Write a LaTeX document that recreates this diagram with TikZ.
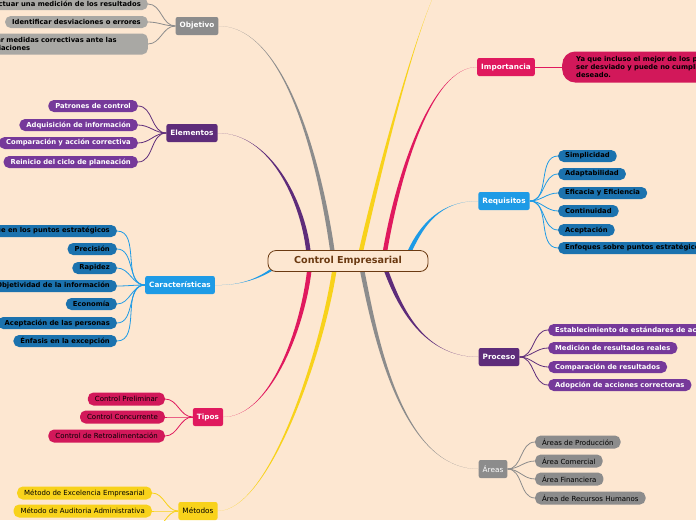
\documentclass[tikz,border=0pt]{standalone}
\usepackage{fontspec}
\setmainfont{DejaVu Sans}
\usetikzlibrary{calc}
\definecolor{bg}{HTML}{FDE7D1}
\definecolor{cgray}{HTML}{8C8C8C}
\definecolor{clgray}{HTML}{A9A8A4}
\definecolor{cpur}{HTML}{5E2C7A}
\definecolor{cpurk}{HTML}{76399A}
\definecolor{cpink}{HTML}{E0195E}
\definecolor{cpinkk}{HTML}{D2185A}
\definecolor{cblue}{HTML}{1E9BE6}
\definecolor{cbluek}{HTML}{1B72AE}
\definecolor{cyel}{HTML}{F8D21B}
\definecolor{cbrown}{HTML}{6B3A12}
\newcommand\mytaper[5]{\fill[#1] #2 .. controls #3 and #4 .. #5 -- ($#5+(4.5,0)$) .. controls ($#4+(4.5,0)$) and #3 .. #2;}
\tikzset{
  x=1pt,y=-1pt,
  br/.style={fill=#1,text=white,rounded corners=2pt,inner xsep=4pt,inner ysep=0pt,minimum height=18pt,font=\fontsize{7.3}{8}\selectfont\bfseries},
  kid/.style={fill=#1,rounded corners=5.5pt,inner xsep=7pt,inner ysep=0pt,minimum height=12pt,font=\fontsize{6.8}{7.5}\selectfont\bfseries},
  kidr/.style={fill=#1,rounded corners=5.5pt,inner xsep=7pt,inner ysep=0pt,minimum height=13pt,font=\fontsize{7}{8}\selectfont},
  cn/.style={draw=#1,line width=0.8pt},
}
\begin{document}
\begin{tikzpicture}
\fill[bg] (0,0) rectangle (696,520);
\useasboundingbox (0,0) rectangle (696,520);
% branches
\node[br=cgray] (obj) at (197,26) {Objetivo};
\node[br=cpur] (ele) at (192,133) {Elementos};
\node[br=cblue] (car) at (180,285) {Características};
\node[br=cpink] (tip) at (208,417) {Tipos};
\node[br=cyel,text=black,font=\fontsize{7.3}{8}\selectfont] (met) at (198,511) {Métodos};
\node[br=cpink] (imp) at (506,67) {Importancia};
\node[br=cblue] (req) at (504,201) {Requisitos};
\node[br=cpur] (pro) at (499,357) {Proceso};
\node[br=cgray,font=\fontsize{7.3}{8}\selectfont] (are) at (493,469) {Áreas};
\coordinate (ytop) at (434,-5);
% tapers
\mytaper{cgray}{(obj.east)}{(290,26)}{(320,180)}{(330,250)}
\mytaper{cgray}{(are.west)}{(400,469)}{(372,330)}{(360,271)}
\mytaper{cpur}{(ele.east)}{(270,133)}{(300,200)}{(306,250)}
\mytaper{cpur}{(pro.west)}{(420,357)}{(395,300)}{(384,271)}
\mytaper{cpink}{(imp.west)}{(430,67)}{(395,180)}{(383,250)}
\mytaper{cpink}{(tip.east)}{(270,417)}{(300,330)}{(307,271)}
\mytaper{cyel}{(ytop)}{(410,50)}{(375,180)}{(359,250)}
\mytaper{cyel}{(met.east)}{(270,511)}{(320,350)}{(332,271)}
\mytaper{cblue}{(req.west)}{(440,201)}{(420,225)}{(408,250)}
\mytaper{cblue}{(car.east)}{(245,286)}{(262,275)}{(272,268)}
\node[draw=cbrown,fill=bg,line width=0.8pt,rounded corners=8pt,minimum width=160pt,minimum height=21pt,text=cbrown,font=\fontsize{9.6}{10}\selectfont\bfseries] (ce) at (348,261) {Control Empresarial};
% Objetivo children
\node[kid=clgray,anchor=east] (o1) at (148,4) {Efectuar una medición de los resultados};
\node[kid=clgray,anchor=east] (o2) at (148,22) {Identificar desviaciones o errores};
\node[kid=clgray,anchor=east,minimum height=21pt,align=left,text width=160pt] (o3) at (148,44) {Tomar medidas correctivas ante las\\desviaciones};
\foreach \k in {o1,o2,o3} \draw[cn=cgray] (obj.west) to[out=180,in=0] (\k.east);
% Elementos
\node[kid=cpurk,text=white,anchor=east] (e1) at (138,106) {Patrones de control};
\node[kid=cpurk,text=white,anchor=east] (e2) at (138,125) {Adquisición de información};
\node[kid=cpurk,text=white,anchor=east] (e3) at (138,143) {Comparación y acción correctiva};
\node[kid=cpurk,text=white,anchor=east] (e4) at (138,162) {Reinicio del ciclo de planeación};
\foreach \k in {e1,e2,e3,e4} \draw[cn=cpur] (ele.west) to[out=180,in=0] (\k.east);
% Caracteristicas
\node[kid=cbluek,anchor=east] (c1) at (117,231) {Enfoque en los puntos estratégicos};
\node[kid=cbluek,anchor=east] (c2) at (117,249) {Precisión};
\node[kid=cbluek,anchor=east] (c3) at (117,268) {Rapidez};
\node[kid=cbluek,anchor=east] (c4) at (117,286) {Objetividad de la información};
\node[kid=cbluek,anchor=east] (c5) at (117,304) {Economía};
\node[kid=cbluek,anchor=east] (c6) at (117,323) {Aceptación de las personas};
\node[kid=cbluek,anchor=east] (c7) at (117,341) {Énfasis en la excepción};
\foreach \k in {c1,c2,c3,c4,c5,c6,c7} \draw[cn=cblue] (car.west) to[out=180,in=0] (\k.east);
% Tipos
\node[kidr=cpinkk,anchor=east] (t1) at (165,399) {Control Preliminar};
\node[kidr=cpinkk,anchor=east] (t2) at (165,417) {Control Concurrente};
\node[kidr=cpinkk,anchor=east] (t3) at (165,436) {Control de Retroalimentación};
\foreach \k in {t1,t2,t3} \draw[cn=cpink] (tip.west) to[out=180,in=0] (\k.east);
% Metodos
\node[kidr=cyel,anchor=east] (m1) at (152,493) {Método de Excelencia Empresarial};
\node[kidr=cyel,anchor=east] (m2) at (152,511) {Método de Auditoria Administrativa};
\node[kidr=cyel,anchor=east] (m3) at (152,529) {Método de Control};
\foreach \k in {m1,m2,m3} \draw[cn=cyel] (met.west) to[out=180,in=0] (\k.east);
% Importancia
\node[fill=cpinkk,rounded corners=13pt,anchor=west,minimum height=31pt,inner xsep=14pt,align=left,font=\fontsize{6.8}{7.6}\selectfont\bfseries] (i1) at (562,67) {Ya que incluso el mejor de los planes puede\\ser desviado y puede no cumplir con el objetivo\\deseado.};
\draw[cn=cpink] (imp.east) -- (i1.west);
% Requisitos
\node[kid=cbluek,anchor=west] (r1) at (558,156) {Simplicidad};
\node[kid=cbluek,anchor=west] (r2) at (558,174) {Adaptabilidad};
\node[kid=cbluek,anchor=west] (r3) at (558,193) {Eficacia y Eficiencia};
\node[kid=cbluek,anchor=west] (r4) at (558,211) {Continuidad};
\node[kid=cbluek,anchor=west] (r5) at (558,230) {Aceptación};
\node[kid=cbluek,anchor=west] (r6) at (558,248) {Enfoques sobre puntos estratégicos};
\foreach \k in {r1,r2,r3,r4,r5,r6} \draw[cn=cblue] (req.east) to[out=0,in=180] (\k.west);
% Proceso
\node[kid=cpurk,text=white,anchor=west] (p1) at (548,330) {Establecimiento de estándares de actuación};
\node[kid=cpurk,text=white,anchor=west] (p2) at (548,348) {Medición de resultados reales};
\node[kid=cpurk,text=white,anchor=west] (p3) at (548,367) {Comparación de resultados};
\node[kid=cpurk,text=white,anchor=west] (p4) at (548,385) {Adopción de acciones correctoras};
\foreach \k in {p1,p2,p3,p4} \draw[cn=cpur] (pro.east) to[out=0,in=180] (\k.west);
% Areas
\node[kidr=cgray,anchor=west] (a1) at (535,442) {Áreas de Producción};
\node[kidr=cgray,anchor=west] (a2) at (535,461) {Área Comercial};
\node[kidr=cgray,anchor=west] (a3) at (535,479) {Área Financiera};
\node[kidr=cgray,anchor=west] (a4) at (535,498) {Área de Recursos Humanos};
\foreach \k in {a1,a2,a3,a4} \draw[cn=cgray] (are.east) to[out=0,in=180] (\k.west);
\end{tikzpicture}
\end{document}
